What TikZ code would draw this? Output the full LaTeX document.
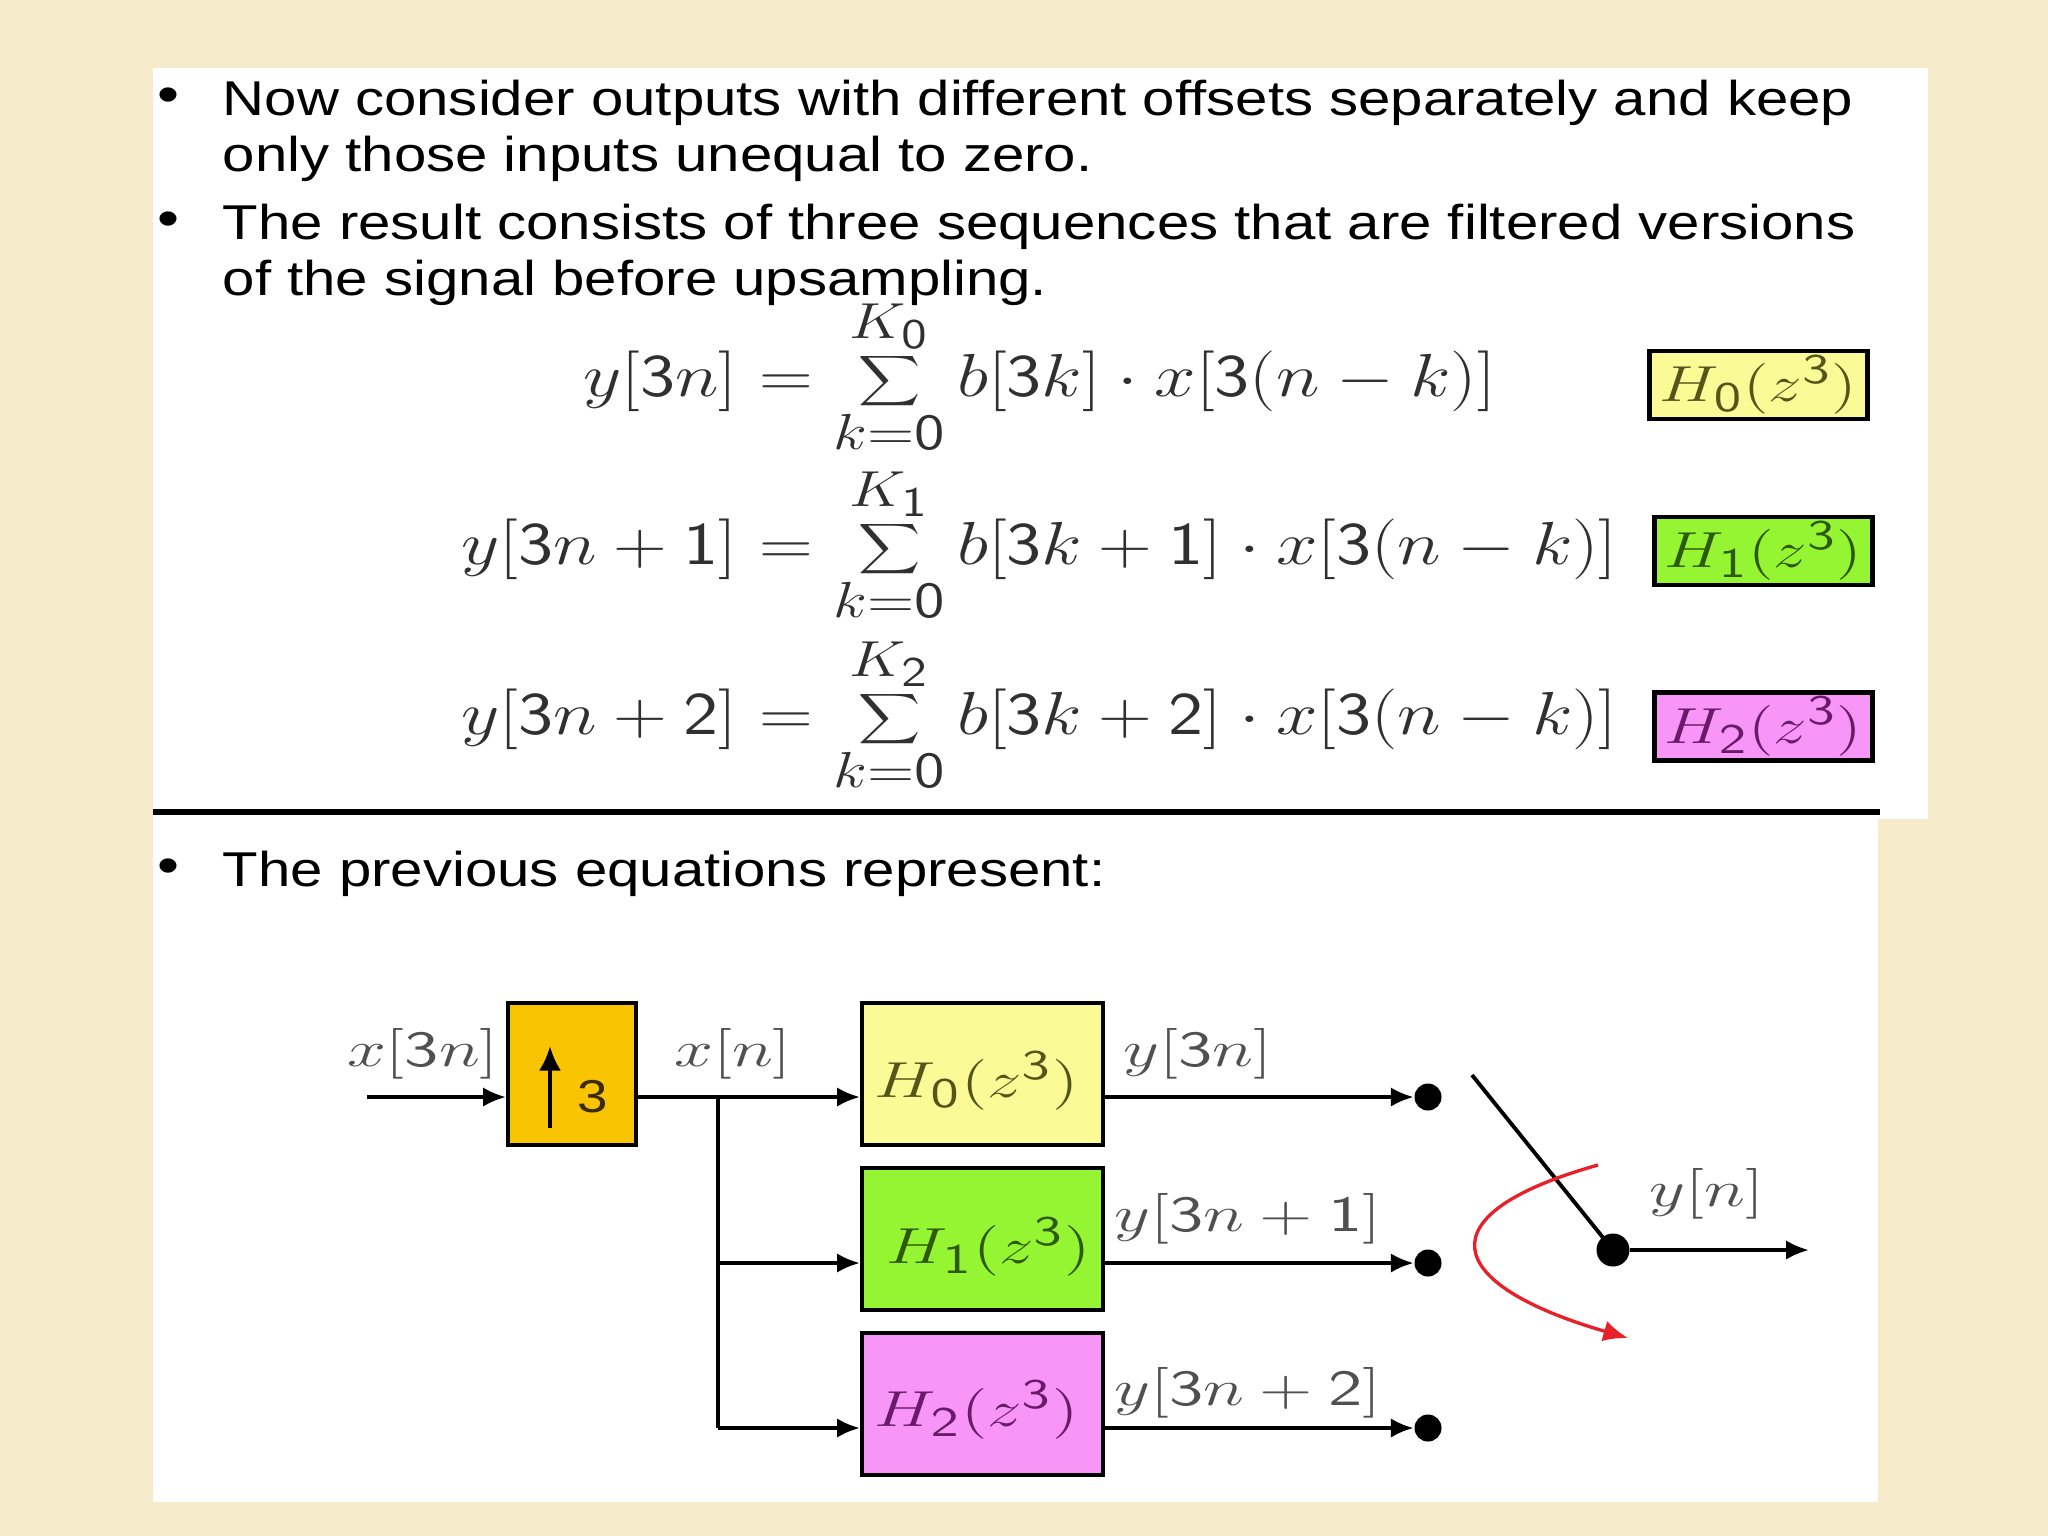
\documentclass[tikz,border=0pt]{standalone}
\usepackage[no-math]{fontspec}
\setmainfont{Liberation Sans}[FakeStretch=1.19]
\usepackage{graphicx}
\usetikzlibrary{arrows.meta,calc}
\DeclareMathSizes{15.4}{15.4}{13}{10.5}
\DeclareMathSizes{17}{17}{14.3}{11.5}
\definecolor{bg}{HTML}{F6EBCB}
\definecolor{upc}{HTML}{F8C300}
\definecolor{hzero}{HTML}{FAFA96}
\definecolor{hone}{HTML}{96F532}
\definecolor{htwo}{HTML}{F796F7}
\definecolor{redc}{HTML}{E8202A}
\definecolor{tzero}{HTML}{55551A}
\definecolor{tone}{HTML}{2C5A0A}
\definecolor{ttwo}{HTML}{6A1A6A}
\definecolor{eqc}{HTML}{303030}
\definecolor{lblc}{HTML}{505050}
\definecolor{threec}{HTML}{3A2A00}
\newcommand{\dg}[1]{\mathsf{#1}}
\newcommand{\mst}[1]{\scalebox{1.32}[1]{$#1$}}
\newcommand{\mstq}[1]{\scalebox{1.225}[1]{$#1$}}
\newcommand{\mstb}[1]{\scalebox{1.36}[1]{$#1$}}
\newcommand{\mstl}[1]{\scalebox{1.38}[1]{$#1$}}
\newcommand{\bodyfont}{\fontsize{13.9pt}{15.6pt}\selectfont}
\newcommand{\bulfont}{\fontsize{15pt}{16pt}\selectfont}
\newcommand{\threefont}{\fontsize{13.1pt}{15pt}\selectfont}
\newcommand{\eqfont}{\fontsize{15.4}{18}\selectfont}
\newcommand{\eqbigfont}{\fontsize{17}{20}\selectfont}
\tikzset{
  txt/.style={anchor=base west, inner sep=0pt, font=\bodyfont, text=black},
  bul/.style={anchor=base, inner sep=0pt, font=\bulfont, text=black},
  mlhs/.style={anchor=base east, inner sep=0pt, font=\eqbigfont, text=eqc},
  mrhs/.style={anchor=base west, inner sep=0pt, font=\eqbigfont, text=eqc},
  tagbox/.style={draw=black, line width=1.2pt, minimum width=21.8mm, minimum height=6.8mm, inner sep=0pt, font=\eqfont},
  blk/.style={draw=black, line width=1.1pt, minimum width=24.1mm, minimum height=14.2mm, inner sep=0pt, font=\eqfont},
  lbl/.style={anchor=base, inner sep=0pt, font=\eqfont, text=lblc},
  dot/.style={circle, fill=black, inner sep=0pt, minimum size=2.7mm},
  pivot/.style={circle, fill=black, inner sep=0pt, minimum size=3.3mm},
  wire/.style={line width=1.1pt, draw=black},
  arr/.style={wire, -{Latex[length=6.5pt,width=5.5pt]}},
}
\begin{document}
\begin{tikzpicture}[x=0.01cm, y=-0.01cm]
\useasboundingbox (0,0) rectangle (2048,1536);
\fill[bg] (0,0) rectangle (2048,1536);
\fill[white] (153,68) rectangle (1928,819);
\fill[white] (153,812) rectangle (1878,1502);
\draw[line width=1.8pt] (153,812) -- (1880,812);

% bullet text
\node[bul] (b1) at (168,112) {•};
\node[txt] (l1) at (222,115) {Now consider outputs with different offsets separately and keep};
\node[txt] (l2) at (222,171) {only those inputs unequal to zero.};
\node[bul] (b2) at (168,236) {•};
\node[txt] (l3) at (222,239) {The result consists of three sequences that are filtered versions};
\node[txt] (l4) at (222,295) {of the signal before upsampling.};
\node[bul] (b3) at (168,883) {•};
\node[txt] (l5) at (222,886) {The previous equations represent:};

% equations
\node[mlhs] (e1l) at (738,396) {\mstq{y[\dg3n]}};
\node[mrhs] (e1r) at (738,396) {\mstq{{}=\displaystyle\sum_{k=\dg0}^{K_{\dg0}} b[\dg3k]\cdot x[\dg3(n-k)]}};
\node[mlhs] (e2l) at (738,564) {\mstq{y[\dg3n+\dg1]}};
\node[mrhs] (e2r) at (738,564) {\mstq{{}=\displaystyle\sum_{k=\dg0}^{K_{\dg1}} b[\dg3k+\dg1]\cdot x[\dg3(n-k)]}};
\node[mlhs] (e3l) at (738,734) {\mstq{y[\dg3n+\dg2]}};
\node[mrhs] (e3r) at (738,734) {\mstq{{}=\displaystyle\sum_{k=\dg0}^{K_{\dg2}} b[\dg3k+\dg2]\cdot x[\dg3(n-k)]}};

\node[tagbox, fill=hzero, text=tzero] (t0) at (1758.5,385) {\mst{H_{\dg0}(z^{\dg3})}};
\node[tagbox, fill=hone, text=tone] (t1) at (1763.5,551) {\mst{H_{\dg1}(z^{\dg3})}};
\node[tagbox, fill=htwo, text=ttwo] (t2) at (1763.5,726.5) {\mst{H_{\dg2}(z^{\dg3})}};

% block diagram
\node[blk, fill=upc, minimum width=12.8mm] (up) at (572,1074) {};
\draw[arr, line width=1.2pt, -{Latex[length=7pt,width=6.3pt]}] ($(up.center)+(-22,54)$) -- ($(up.center)+(-22,-28)$);
\node[inner sep=0pt, font=\threefont, text=threec] (three) at ($(up.center)+(21,23)$) {3};
\node[blk, fill=hzero] (h0) at (982.5,1074) {};
\node[blk, fill=hone] (h1) at (982.5,1239) {};
\node[blk, fill=htwo] (h2) at (982.5,1404) {};
\node[inner sep=0pt, font=\eqfont, text=tzero] (h0t) at ($(h0.center)+(-6,7)$) {\mstb{H_{\dg0}(z^{\dg3})}};
\node[inner sep=0pt, font=\eqfont, text=tone] (h1t) at ($(h1.center)+(6,8)$) {\mstb{H_{\dg1}(z^{\dg3})}};
\node[inner sep=0pt, font=\eqfont, text=ttwo] (h2t) at ($(h2.center)+(-6,6)$) {\mstb{H_{\dg2}(z^{\dg3})}};

\coordinate (in) at (367,1097);
\coordinate (br) at (718,1097);
\node[dot] (d0) at (1428,1097) {};
\node[dot] (d1) at (1428,1263) {};
\node[dot] (d2) at (1428,1428) {};
\node[pivot] (sw) at (1613,1250) {};
\coordinate (swtop) at (1472,1075);
\coordinate (yout) at (1809,1250);

\draw[arr] (in) -- (in -| up.west);
\draw[arr] (up.east |- in) -- (h0.west |- in);
\draw[wire] (br) -- (br |- d2);
\draw[arr] (br |- d1) -- (h1.west |- d1);
\draw[arr] (br |- d2) -- (h2.west |- d2);
\draw[arr] (h0.east |- d0) -- (d0);
\draw[arr] (h1.east |- d1) -- (d1);
\draw[arr] (h2.east |- d2) -- (d2);
\draw[wire] (swtop) -- (sw.center);
\draw[arr] (sw) -- (yout);

\coordinate (rs) at (1598,1165);
\coordinate (re) at (1628,1338);
\draw[redc, line width=0.95pt, -{Latex[length=7pt,width=6pt]}] (rs) .. controls (1420,1215) and (1445,1285) .. (re);

\node[lbl] (lx3n) at (423,1066) {\mstl{x[\dg3n]}};
\node[lbl] (lxn) at (733,1066) {\mstl{x[n]}};
\node[lbl] (ly0) at (1198,1066) {\mstl{y[\dg3n]}};
\node[lbl] (ly1) at (1248,1231) {\mstl{y[\dg3n+\dg1]}};
\node[lbl] (ly2) at (1248,1405) {\mstl{y[\dg3n+\dg2]}};
\node[lbl] (lyn) at (1707,1206) {\mstl{y[n]}};
\end{tikzpicture}
\end{document}
